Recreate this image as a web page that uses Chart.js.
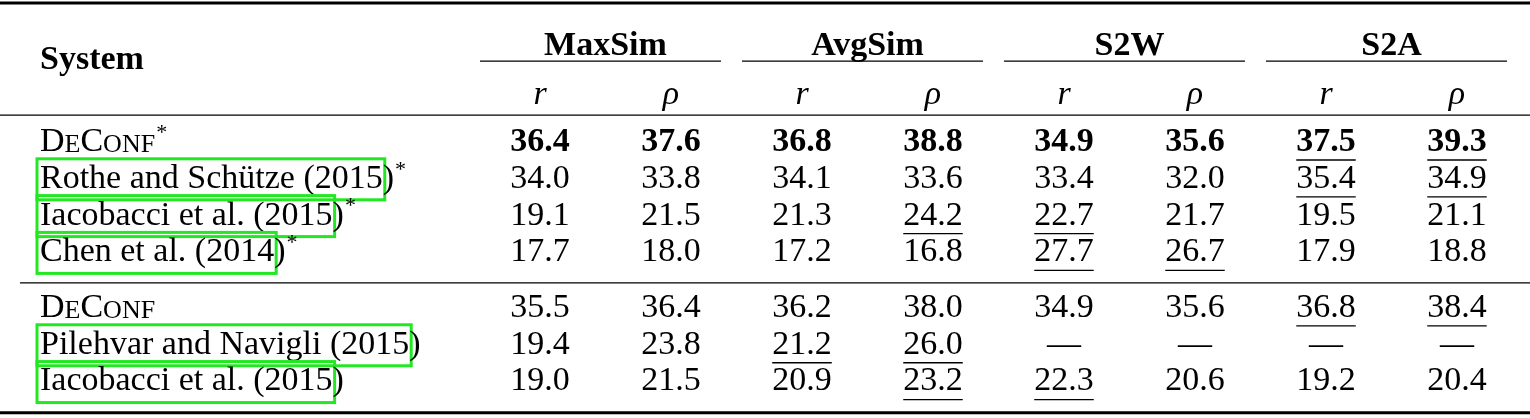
<!DOCTYPE html>
<html>
<head>
<meta charset="utf-8">
<script src="https://cdn.jsdelivr.net/npm/chart.js@4.4.0/dist/chart.umd.min.js"></script>
<style>
  html, body { margin: 0; padding: 0; background: #fff; }
  #wrap { width: 1530px; height: 418px; }
</style>
</head>
<body>
<div id="wrap"><canvas id="tbl"></canvas></div>
<script>
"use strict";

// table data
var groups = ["MaxSim", "AvgSim", "S2W", "S2A"];
var subCols = ["r", "ρ"];
var systems = ["DECONF", "Rothe and Schütze (2015", "Iacobacci et al. (2015", "Chen et al. (2014",
               "DECONF", "Pilehvar and Navigli (2015", "Iacobacci et al. (2015"];
var starred = [true, true, true, true, false, false, false];
var values = [
    ["36.4", "37.6", "36.8", "38.8", "34.9", "35.6", "37.5", "39.3"],
    ["34.0", "33.8", "34.1", "33.6", "33.4", "32.0", "35.4", "34.9"],
    ["19.1", "21.5", "21.3", "24.2", "22.7", "21.7", "19.5", "21.1"],
    ["17.7", "18.0", "17.2", "16.8", "27.7", "26.7", "17.9", "18.8"],
    ["35.5", "36.4", "36.2", "38.0", "34.9", "35.6", "36.8", "38.4"],
    ["19.4", "23.8", "21.2", "26.0", "—", "—", "—", "—"],
    ["19.0", "21.5", "20.9", "23.2", "22.3", "20.6", "19.2", "20.4"]
];
var underlined = [[6, 7], [6, 7], [3, 4], [4, 5], [6, 7], [2, 3], [3, 4]];
var boldRows = [0];
var rowPos = [0, 1, 2, 3, 4.51, 5.51, 6.51];

var points = [];
values.forEach(function (row, j) {
    row.forEach(function (v, i) { points.push({ x: i, y: rowPos[j], v: v, row: j, col: i }); });
});

var SERIF = "'Liberation Serif', 'DejaVu Serif', serif";
var FS = 34;

var tablePlugin = {
    id: "tablePlugin",
    afterDraw: function (chart) {
        var ctx = chart.ctx, xs = chart.scales.x, ys = chart.scales.y;
        var X = function (v) { return xs.getPixelForValue(v); };
        var Y = function (v) { return ys.getPixelForValue(v); };
        ctx.save();
        ctx.fillStyle = "#000";
        ctx.strokeStyle = "#000";
        ctx.textBaseline = "middle";

        function hline(x1, x2, y, w) {
            ctx.lineWidth = w; ctx.beginPath(); ctx.moveTo(x1, y); ctx.lineTo(x2, y); ctx.stroke();
        }
        // rules
        hline(0, 1530, Y(-3.78), 3);
        hline(0, 1530, Y(-0.73), 1.3);
        hline(20, 1530, Y(3.83), 1.3);
        hline(0, 1530, Y(7.36), 3);

        // group headers
        ctx.font = "bold " + FS + "px " + SERIF;
        ctx.textAlign = "center";
        groups.forEach(function (g, k) {
            var c = (X(2 * k) + X(2 * k + 1)) / 2;
            ctx.fillText(g, c, Y(-2.6));
            hline(X(2 * k) - 60, X(2 * k + 1) + 50, Y(-2.2), 1.3);
        });
        ctx.textAlign = "left";
        ctx.fillText("System", 40, Y(-2.23));

        // sub headers
        ctx.font = "italic " + FS + "px " + SERIF;
        ctx.textAlign = "center";
        for (var i = 0; i < 8; i++) ctx.fillText(subCols[i % 2], X(i), Y(-1.28));

        // system names
        ctx.textAlign = "left";
        systems.forEach(function (s, j) {
            var y = Y(rowPos[j]), x = 40;
            if (s === "DECONF") {
                ctx.font = FS + "px " + SERIF; ctx.fillText("D", x, y); x += ctx.measureText("D").width;
                ctx.font = "26px " + SERIF; ctx.fillText("E", x, y + 3); x += ctx.measureText("E").width;
                ctx.font = FS + "px " + SERIF; ctx.fillText("C", x, y); x += ctx.measureText("C").width;
                ctx.font = "26px " + SERIF; ctx.fillText("ONF", x, y + 3); x += ctx.measureText("ONF").width;
            } else {
                ctx.font = FS + "px " + SERIF;
                ctx.fillText(s, x, y);
                var w = ctx.measureText(s).width;
                ctx.strokeStyle = "#22e822"; ctx.lineWidth = 3;
                ctx.strokeRect(x - 3, y - 20, w + 5, 41);
                ctx.strokeStyle = "#000";
                x += w;
                ctx.fillText(")", x, y); x += ctx.measureText(")").width;
            }
            if (starred[j]) {
                ctx.font = "22px " + SERIF; ctx.fillText("*", x + 1, y - 9);
            }
        });

        // cells
        ctx.textAlign = "center";
        chart.data.datasets[0].data.forEach(function (p) {
            var bold = boldRows.indexOf(p.row) >= 0;
            ctx.font = (bold ? "bold " : "") + FS + "px " + SERIF;
            var x = X(p.x), y = Y(p.y);
            ctx.fillText(p.v, x, y);
            if (underlined[p.row].indexOf(p.col) >= 0) {
                var w = ctx.measureText(p.v).width;
                hline(x - w / 2, x + w / 2, y + 18, 1.3);
            }
        });
        ctx.restore();
    }
};

new Chart(document.getElementById("tbl"), {
    type: "scatter",
    data: { datasets: [{ data: points, pointRadius: 0, showLine: false }] },
    options: {
        responsive: true,
        maintainAspectRatio: false,
        animation: false,
        layout: { padding: 0 },
        plugins: { legend: { display: false }, tooltip: { enabled: false } },
        scales: {
            x: { type: "linear", display: false, min: -540 / 131, max: 990 / 131 },
            y: { type: "linear", display: false, reverse: true, min: -142 / 36.8, max: 276 / 36.8 }
        }
    },
    plugins: [tablePlugin]
});
</script>
</body>
</html>
